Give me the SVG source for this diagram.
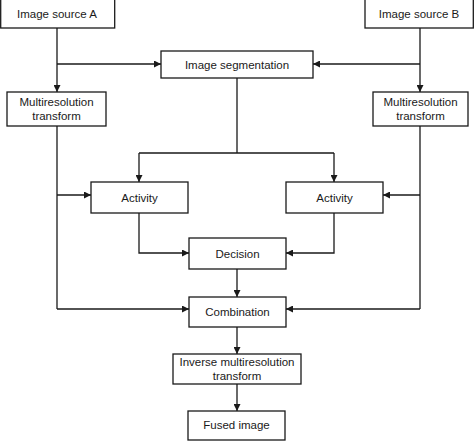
<svg xmlns="http://www.w3.org/2000/svg" width="474" height="442" viewBox="0 0 474 442">
<defs>
<marker id="arr" viewBox="0 0 10 10" refX="10" refY="5" markerWidth="7" markerHeight="7" markerUnits="userSpaceOnUse" orient="auto">
<path d="M0,0 L10,5 L0,10 z" fill="#1a1a1a"/>
</marker>
<style>
.box{fill:#fff;stroke:#1a1a1a;stroke-width:1.3}
.t{font-family:"Liberation Sans",Arial,sans-serif;font-size:11.5px;fill:#1a1a1a;text-anchor:middle}
.c{fill:none;stroke:#1a1a1a;stroke-width:1.3}
.a{marker-end:url(#arr)}
</style>
</defs>
<rect width="474" height="442" fill="#fff"/>
<g id="connectors">
<path class="c a" d="M57,28 L57,92"/>
<path class="c a" d="M57,64 L161,64"/>
<path class="c a" d="M420,28 L420,92"/>
<path class="c a" d="M420,64 L313,64"/>
<path class="c" d="M237,78 L237,153 M139,153 L334,153"/>
<path class="c a" d="M139,153 L139,182"/>
<path class="c a" d="M334,153 L334,182"/>
<path class="c" d="M57,126 L57,309"/>
<path class="c a" d="M57,195 L91,195"/>
<path class="c" d="M420,126 L420,309"/>
<path class="c a" d="M420,195 L383,195"/>
<path class="c a" d="M139,213 L139,253 L189,253"/>
<path class="c a" d="M334,213 L334,253 L286,253"/>
<path class="c a" d="M237,269 L237,297"/>
<path class="c a" d="M57,309 L189,309"/>
<path class="c a" d="M420,309 L286,309"/>
<path class="c a" d="M237,327 L237,354"/>
<path class="c a" d="M237,384 L237,411"/>
</g>
<g id="srcA"><rect class="box" x="0.7" y="-1" width="114" height="29"/><text class="t" x="57" y="18">Image source A</text></g>
<g id="srcB"><rect class="box" x="365" y="-1" width="108.3" height="29"/><text class="t" x="419" y="18">Image source B</text></g>
<g id="seg"><rect class="box" x="161" y="51" width="152" height="27"/><text class="t" x="237" y="68.5">Image segmentation</text></g>
<g id="mrA"><rect class="box" x="7" y="92" width="99" height="34"/><text class="t" x="56.5" y="105.5">Multiresolution</text><text class="t" x="56.5" y="119.5">transform</text></g>
<g id="mrB"><rect class="box" x="373" y="92" width="95" height="34"/><text class="t" x="420.5" y="105.5">Multiresolution</text><text class="t" x="420.5" y="119.5">transform</text></g>
<g id="actA"><rect class="box" x="91" y="182" width="97" height="31"/><text class="t" x="139.5" y="202">Activity</text></g>
<g id="actB"><rect class="box" x="286" y="182" width="97" height="31"/><text class="t" x="334.5" y="202">Activity</text></g>
<g id="dec"><rect class="box" x="189" y="238" width="97" height="31"/><text class="t" x="237.5" y="257.5">Decision</text></g>
<g id="comb"><rect class="box" x="189" y="297" width="97" height="30"/><text class="t" x="237.5" y="315.5">Combination</text></g>
<g id="inv"><rect class="box" x="173" y="354" width="128" height="30"/><text class="t" x="237" y="366">Inverse multiresolution</text><text class="t" x="237" y="380">transform</text></g>
<g id="fused"><rect class="box" x="188" y="411" width="97" height="29"/><text class="t" x="236.5" y="429">Fused image</text></g>
</svg>
